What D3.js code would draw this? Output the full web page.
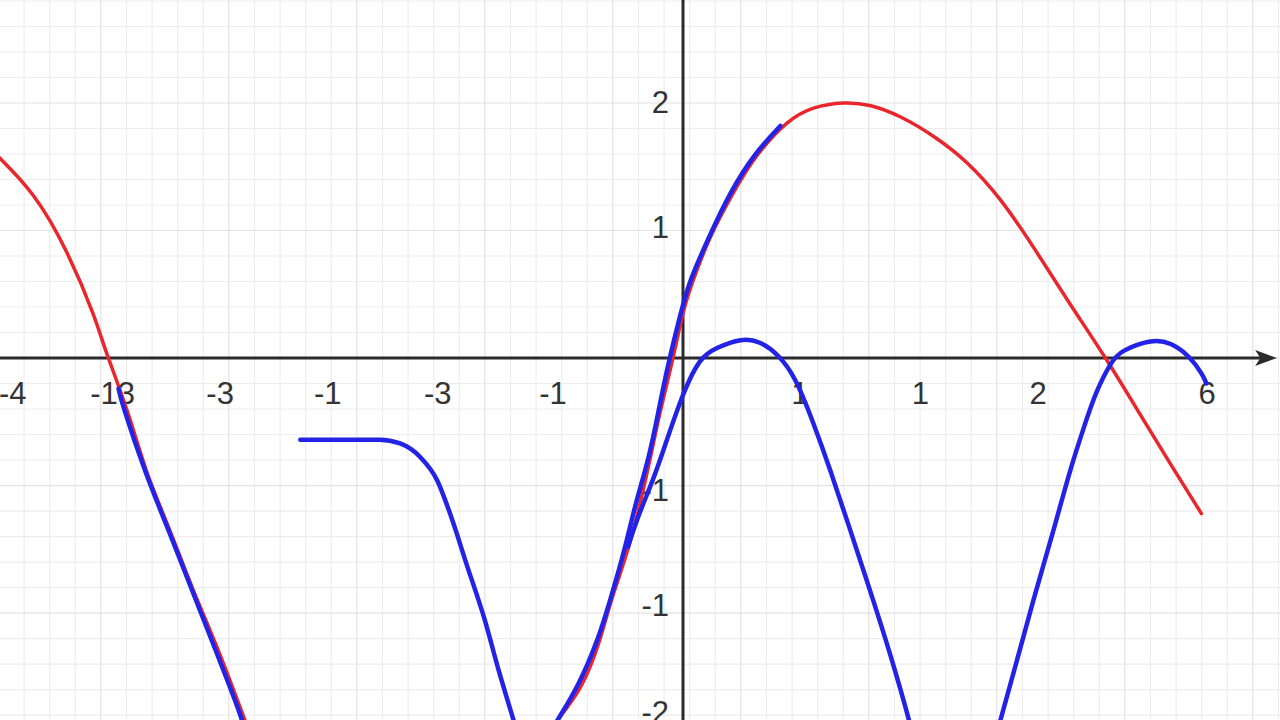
<!DOCTYPE html>
<html><head><meta charset="utf-8">
<script src="https://cdn.jsdelivr.net/npm/d3@7"></script>
<style>
html,body{margin:0;padding:0;background:#fff;}
svg{display:block;}
</style></head>
<body>
<svg id="chart" width="1280" height="720"></svg>
<script>
// ---- data (in chart units) ----
const xTickPos = [-5.24, -4.46, -3.62, -2.78, -1.92, -1.02, 0.91, 1.85, 2.77, 4.09];
const xTickLabels = ["-4", "-13", "-3", "-1", "-3", "-1", "1", "1", "2", "6"];
const yTickPos = [2.0, 1.02, -1.04, -1.94, -2.78];
const yTickLabels = ["2", "1", "-1", "-1", "-2"];

const redLeft = [[-5.40,1.64],[-5.34,1.57],[-5.08,1.28],[-4.81,0.82],[-4.61,0.35],[-4.50,0.03],[-4.34,-0.42],[-4.19,-0.89],[-4.01,-1.35],[-3.83,-1.81],[-3.64,-2.27],[-3.46,-2.74],[-3.40,-2.90]];
const redMain = [[-1.02,-2.92],[-0.98,-2.84],[-0.80,-2.58],[-0.65,-2.21],[-0.55,-1.87],[-0.41,-1.43],[-0.27,-0.85],[-0.18,-0.43],[-0.09,-0.05],[0.0,0.35],[0.08,0.61],[0.21,0.94],[0.39,1.29],[0.58,1.59],[0.81,1.84],[1.02,1.96],[1.25,2.00],[1.46,1.98],[1.70,1.89],[1.97,1.73],[2.22,1.53],[2.48,1.24],[2.75,0.85],[3.02,0.43],[3.30,0.00],[3.57,-0.44],[3.82,-0.85],[4.05,-1.22]];

const blueA = [[-4.41,-0.24],[-4.36,-0.42],[-4.20,-0.89],[-4.02,-1.35],[-3.84,-1.81],[-3.66,-2.27],[-3.48,-2.74],[-3.43,-2.90]];
const blueB = [[-2.99,-0.64],[-2.68,-0.64],[-2.37,-0.64],[-2.21,-0.67],[-2.05,-0.78],[-1.92,-0.96],[-1.82,-1.22],[-1.69,-1.62],[-1.55,-2.05],[-1.44,-2.45],[-1.33,-2.82],[-1.30,-2.92]];
const blueC = [[-1.02,-2.92],[-0.98,-2.84],[-0.82,-2.56],[-0.67,-2.21],[-0.57,-1.90],[-0.46,-1.51],[-0.37,-1.15],[-0.27,-0.78],[-0.19,-0.41],[-0.11,-0.03],[-0.02,0.34],[0.06,0.61],[0.20,0.94],[0.37,1.29],[0.56,1.59],[0.76,1.82]];
const blueD = [[-0.43,-1.48],[-0.34,-1.22],[-0.23,-0.94],[-0.125,-0.64],[0.0,-0.29],[0.13,-0.03],[0.27,0.08],[0.45,0.14],[0.60,0.12],[0.74,0.02],[0.875,-0.17],[1.01,-0.49],[1.15,-0.88],[1.30,-1.33],[1.46,-1.82],[1.62,-2.33],[1.76,-2.82],[1.78,-2.92]];
const blueE = [[2.45,-2.92],[2.48,-2.84],[2.62,-2.33],[2.76,-1.82],[2.90,-1.33],[3.02,-0.90],[3.13,-0.55],[3.23,-0.27],[3.34,-0.05],[3.45,0.06],[3.65,0.13],[3.81,0.11],[3.95,0.01],[4.05,-0.12],[4.09,-0.20]];

const redSeries = [redLeft, redMain];
const blueSeries = [blueA, blueC, blueD, blueE];
const blueFlat = [blueB];

// ---- chart ----
const W = 1280, H = 720;
const svg = d3.select("#chart");
const x = d3.scaleLinear().domain([-5.336, 4.664]).range([0, W]);
const y = d3.scaleLinear().domain([2.808, -2.839]).range([0, H]);

// grid
const gx = d3.range(-5.148, 4.7, 0.2);
const gy = d3.range(-14, 15).map(k => k * 0.2);
const grid = svg.append("g");
grid.selectAll(".gv").data(gx).join("line")
  .attr("x1", d => x(d)).attr("x2", d => x(d)).attr("y1", 0).attr("y2", H)
  .attr("stroke", (d, i) => i % 5 === 3 ? "#e2e2e2" : "#ededed").attr("stroke-width", 1.2);
grid.selectAll(".gh").data(gy).join("line")
  .attr("x1", 0).attr("x2", W).attr("y1", d => y(d)).attr("y2", d => y(d))
  .attr("stroke", (d, i) => i % 5 === 4 ? "#e2e2e2" : "#ededed").attr("stroke-width", 1.2);

// axes lines
svg.append("line").attr("x1", x(0)).attr("x2", x(0)).attr("y1", 0).attr("y2", H)
  .attr("stroke", "#2b2b2b").attr("stroke-width", 3);
svg.append("line").attr("x1", 0).attr("x2", x(4.55)).attr("y1", y(0)).attr("y2", y(0))
  .attr("stroke", "#2b2b2b").attr("stroke-width", 3);
svg.append("path")
  .attr("d", `M${x(4.64)},${y(0)} L${x(4.47)},${y(0) - 8} L${x(4.51)},${y(0)} L${x(4.47)},${y(0) + 8} Z`)
  .attr("fill", "#2b2b2b");

// tick labels via axes
const fontFam = "'Liberation Sans', Arial, sans-serif";
const xAxis = d3.axisBottom(x).tickValues(xTickPos).tickFormat((d, i) => xTickLabels[i]).tickSize(0).tickPadding(0);
const gxa = svg.append("g").attr("transform", `translate(0,${y(0) + 24})`).call(xAxis);
gxa.select(".domain").remove();
gxa.selectAll("text").attr("font-size", 31).attr("font-family", fontFam).attr("fill", "#333").attr("dy", "0.71em");

const yAxis = d3.axisLeft(y).tickValues(yTickPos).tickFormat((d, i) => yTickLabels[i]).tickSize(0).tickPadding(0);
const gya = svg.append("g").attr("transform", `translate(${x(0) - 14},0)`).call(yAxis);
gya.select(".domain").remove();
gya.selectAll("text").attr("font-size", 31).attr("font-family", fontFam).attr("fill", "#333");

// curves
const line = d3.line().x(d => x(d[0])).y(d => y(d[1])).curve(d3.curveNatural);
const lineMono = d3.line().x(d => x(d[0])).y(d => y(d[1])).curve(d3.curveMonotoneX);
svg.append("g").selectAll("path").data(redSeries).join("path")
  .attr("d", line).attr("fill", "none").attr("stroke", "#e8262c").attr("stroke-width", 3.5)
  .attr("stroke-linecap", "round");
const bg = svg.append("g");
bg.selectAll("path.s").data(blueSeries).join("path")
  .attr("d", line).attr("fill", "none").attr("stroke", "#2323e8").attr("stroke-width", 4.5)
  .attr("stroke-linecap", "round");
bg.selectAll("path.f").data(blueFlat).join("path").attr("class", "f")
  .attr("d", lineMono).attr("fill", "none").attr("stroke", "#2323e8").attr("stroke-width", 4.5)
  .attr("stroke-linecap", "round");
</script>
</body></html>
